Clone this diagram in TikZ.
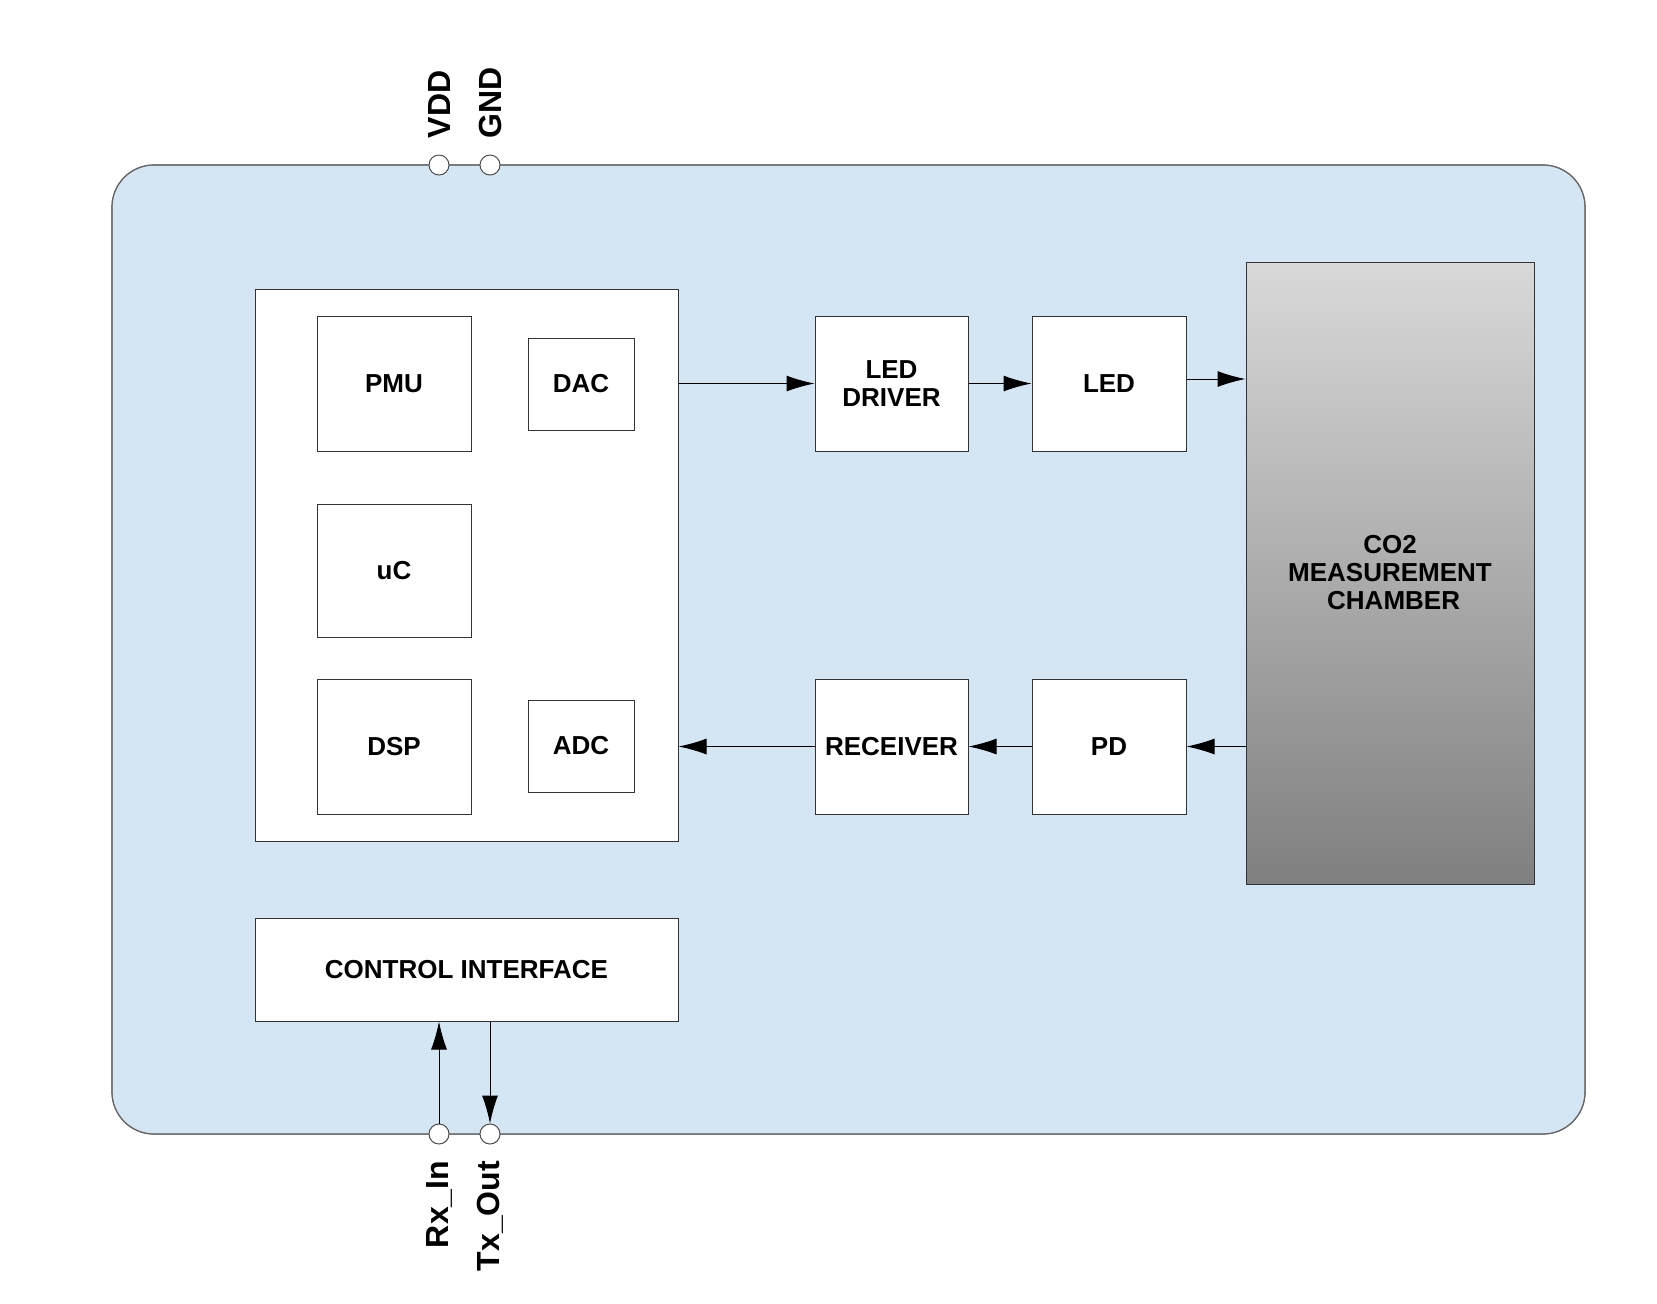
\documentclass[tikz,border=0pt]{standalone}
\usepackage{fontspec}
\setmainfont{Liberation Sans}
\usetikzlibrary{arrows.meta}
\begin{document}
\begin{tikzpicture}[x=0.5pt, y=-0.5pt,
  blk/.style={draw=black!80, fill=white, line width=0.5pt, font=\bfseries\fontsize{13}{14}\selectfont, align=center, inner sep=0pt},
  pin/.style={circle, draw=black!70, fill=white, line width=0.5pt, minimum size=10pt, inner sep=0pt},
  pinlabel/.style={rotate=90, font=\bfseries\fontsize{16}{18}\selectfont, inner sep=0pt},
  sig/.style={-{Latex[length=14pt, width=8pt]}, line width=0.5pt}]

  \useasboundingbox (0,0) rectangle (1657,1303);

  % module outline
  \draw[draw=black!60, fill=blue!40!cyan!15!white, fill=blue!15!white, rounded corners=21pt, line width=0.6pt]
    (112,165) rectangle (1585,1134);
  \fill[fill={rgb,255:red,212; green,230; blue,244}, rounded corners=21pt] (112.5,165.5) rectangle (1584.5,1133.5);
  \draw[draw=black!60, rounded corners=21pt, line width=0.6pt] (112,165) rectangle (1585,1134);

  % processor block
  \node[blk, minimum width=211.5pt, minimum height=276pt] (mcu) at (466.5,565) {};
  \node[blk, minimum width=77pt, minimum height=67.5pt] (pmu) at (394,383.5) {PMU};
  \node[blk, minimum width=53pt, minimum height=46pt] (dac) at (581,384) {DAC};
  \node[blk, minimum width=77pt, minimum height=66.5pt] (uc) at (394,570.5) {uC};
  \node[blk, minimum width=77pt, minimum height=67.5pt] (dsp) at (394,746.5) {DSP};
  \node[blk, minimum width=53pt, minimum height=46pt] (adc) at (581,746) {ADC};

  % optical path
  \node[blk, minimum width=76.5pt, minimum height=67.5pt] (drv) at (891.5,383.5) {LED\\DRIVER};
  \node[blk, minimum width=77pt, minimum height=67.5pt] (led) at (1109,383.5) {LED};
  \node[blk, minimum width=76.5pt, minimum height=67.5pt] (rcv) at (891.5,746.5) {RECEIVER};
  \node[blk, minimum width=77pt, minimum height=67.5pt] (pd) at (1109,746.5) {PD};
  \node[blk, top color=black!15, bottom color=black!50, minimum width=144pt, minimum height=311pt] (chamber) at (1390,573) {CO2\\MEASUREMENT\\\ CHAMBER};

  \node[blk, minimum width=211.5pt, minimum height=51.5pt] (ctrl) at (466.5,969.5) {CONTROL INTERFACE};

  \draw[sig] (mcu.east |- drv.west) -- (drv.west);
  \draw[sig] (drv.east) -- (led.west);
  \draw[sig] (led.east |- 0,379) -- (chamber.west |- 0,379);
  \draw[sig] (chamber.west |- pd.west) -- (pd.east);
  \draw[sig] (pd.west) -- (rcv.east);
  \draw[sig] (rcv.west) -- (mcu.east |- rcv.west);

  % pins
  \node[pin] (vdd) at (439,165) {};
  \node[pin] (gnd) at (490,165) {};
  \node[pin] (rx) at (439,1134) {};
  \node[pin] (tx) at (490,1134) {};
  \node[pinlabel, anchor=west] at ([yshift=8pt]vdd.north) {VDD};
  \node[pinlabel, anchor=west] at ([yshift=8pt]gnd.north) {GND};
  \node[pinlabel, anchor=east] at ([yshift=-8pt]rx.south) {Rx\_In};
  \node[pinlabel, anchor=east] at ([yshift=-8pt]tx.south) {Tx\_Out};

  \draw[sig] (rx.north) -- (rx.north |- ctrl.south);
  \draw[sig] (tx.north |- ctrl.south) -- (tx.north);

\end{tikzpicture}
\end{document}
